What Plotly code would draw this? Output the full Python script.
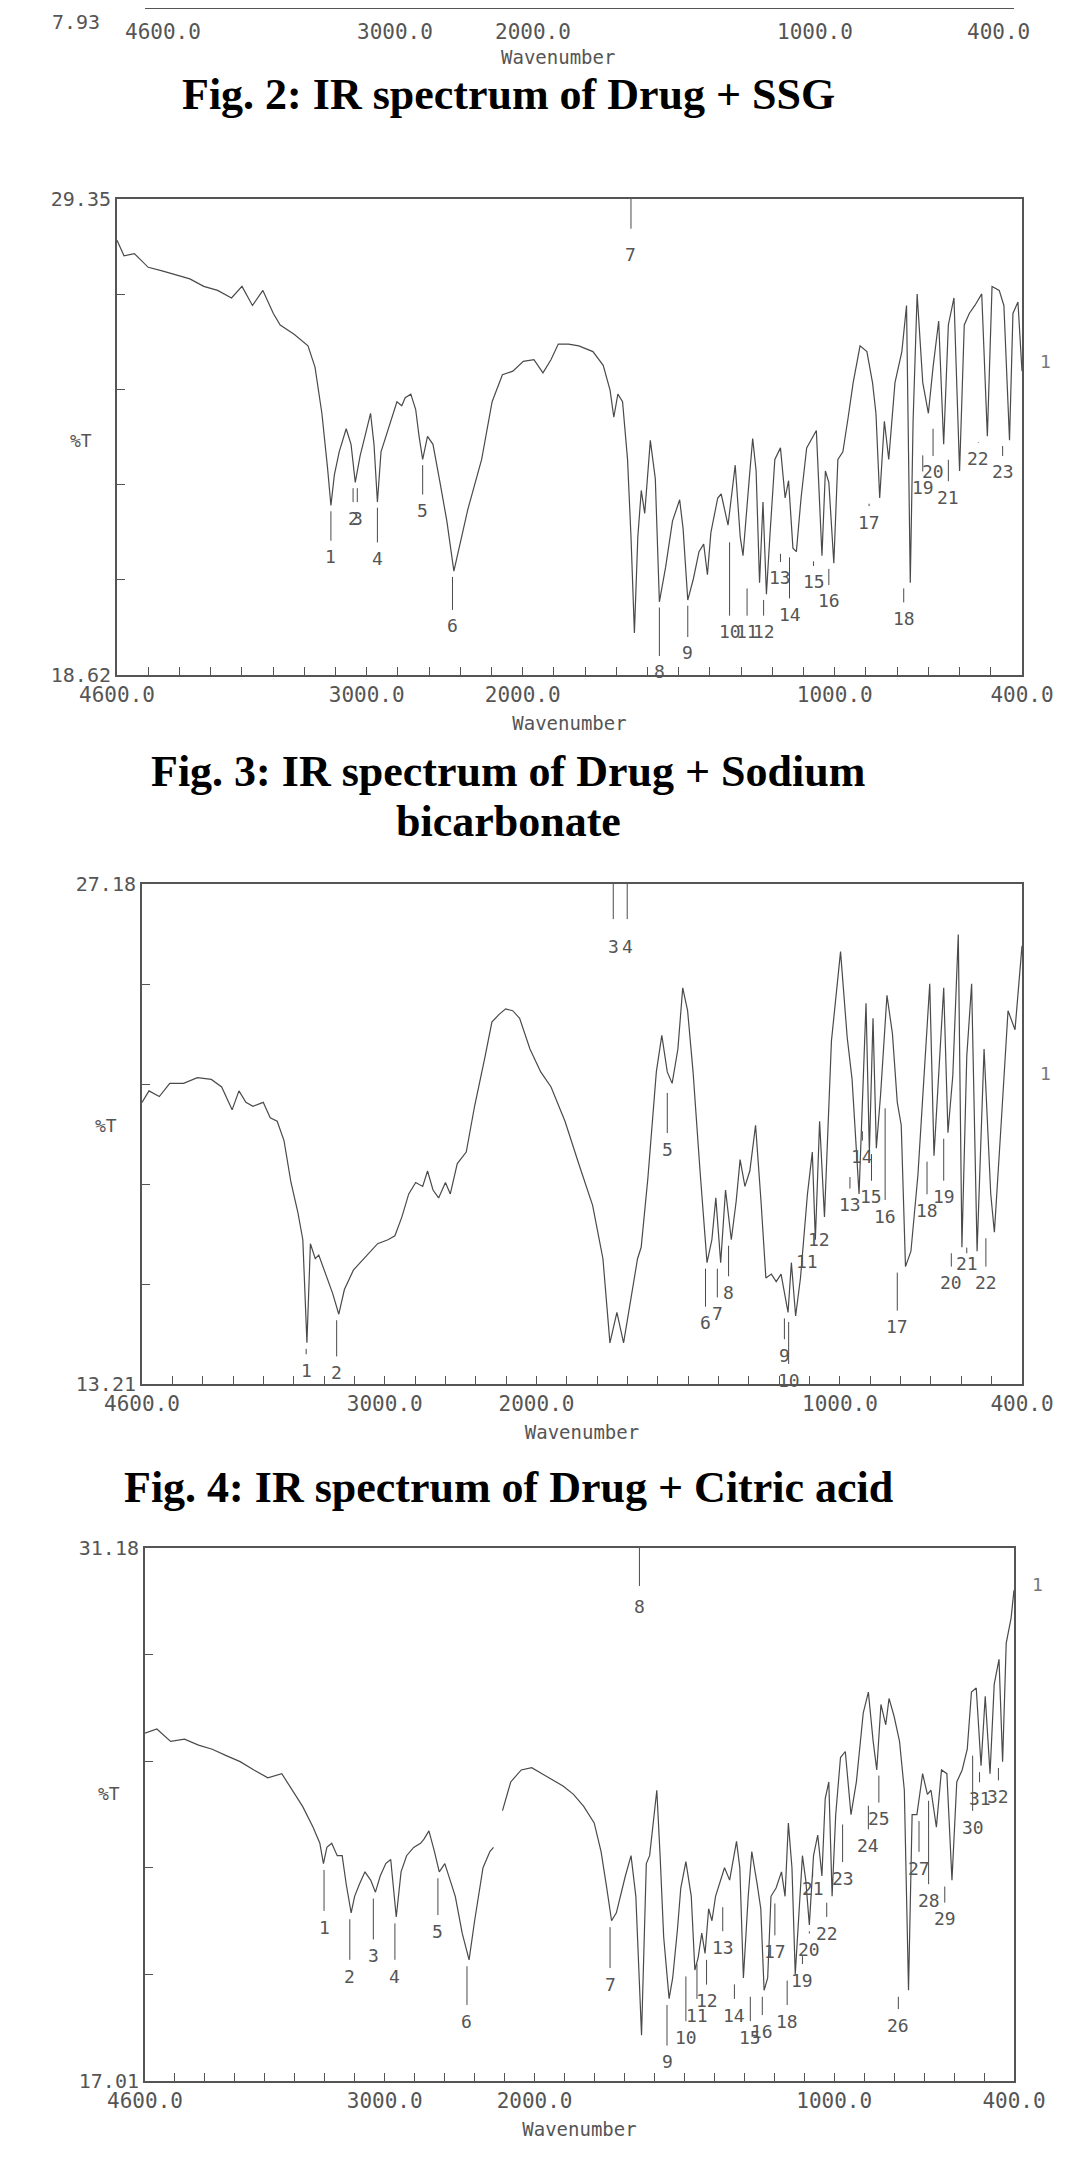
import numpy as np
import plotly.graph_objects as go

# ---- Fig. 2: Drug + SSG ----
s2_wn = [4600,4555,4489,4400,4311,4222,4133,4044,3955,3866,3799,3732,3665,3598,3554,3465,3376,3331,3287,3251,3229,3207,3176,3131,3100,3073,3042,3011,2975,2953,2931,2908,2877,2842,2806,2775,2753,2717,2686,2664,2641,2610,2575,2530,2486,2441,2397,2352,2263,2196,2130,2063,1998,1964,1935,1909,1886,1853,1820,1775,1742,1720,1708,1695,1680,1664,1653,1642,1631,1620,1609,1591,1575,1562,1542,1520,1497,1486,1471,1453,1435,1420,1408,1397,1375,1364,1342,1319,1303,1294,1274,1263,1252,1241,1230,1219,1208,1192,1174,1159,1148,1134,1123,1108,1090,1059,1041,1030,1019,1003,990,974,957,941,919,897,879,868,856,841,827,807,785,770,758,749,736,718,700,685,667,651,636,618,600,585,569,551,529,511,496,473,458,440,429,413,400]
s2_t = [28.42,28.07,28.12,27.81,27.73,27.64,27.55,27.38,27.29,27.12,27.38,26.95,27.29,26.77,26.51,26.30,26.04,25.56,24.52,23.30,22.44,23.13,23.65,24.17,23.82,22.96,23.56,24.00,24.52,23.82,22.52,23.65,24.00,24.34,24.78,24.69,24.87,24.95,24.61,24.00,23.48,24.00,23.82,22.96,22.09,20.96,21.66,22.35,23.48,24.78,25.39,25.47,25.69,25.73,25.43,25.73,26.08,26.08,26.04,25.91,25.60,25.04,24.43,24.95,24.78,23.48,21.74,19.57,21.74,22.78,22.26,23.91,23.04,20.27,21.05,22.09,22.57,21.92,20.31,20.79,21.40,21.57,20.88,21.83,22.61,22.70,22.00,23.35,21.74,21.31,23.04,23.95,23.22,20.70,22.52,20.44,21.74,23.48,23.74,22.61,23.00,21.48,21.40,22.61,23.74,24.13,21.31,23.22,22.96,21.14,23.48,23.65,24.43,25.21,26.04,25.91,25.21,24.52,22.61,24.34,23.48,25.21,25.91,26.95,20.70,24.34,27.21,25.21,24.52,25.56,26.60,23.82,26.51,27.12,23.22,26.51,26.77,26.95,27.21,24.00,27.38,27.29,26.95,23.91,26.77,27.03,25.47]
p2_text = ["1","2","3","4","5","6","8","9","10","11","12","13","14","15","16","17","18","19","20","21","22","23"]
p2_wn = [3229,3087,3060,2931,2641,2450,1562,1471,1337,1281,1228,1174,1145,1068,1019,890,779,718,685,636,540,462]
p2_trough = [22.44,22.96,22.96,22.52,23.48,20.96,20.27,20.31,21.74,20.70,20.44,21.48,21.40,21.31,21.14,22.61,20.70,23.70,24.30,23.60,24.00,23.91]
p2_label = [21.57,22.44,22.44,21.53,22.61,20.01,18.97,19.40,19.88,19.88,19.88,21.09,20.27,21.00,20.57,22.35,20.18,23.13,23.48,22.91,23.78,23.48]
top2_text = ["7"]
top2_wn = [1653]
top2_end = [28.68]
top2_label = [28.38]

# ---- Fig. 3: Drug + Sodium bicarbonate ----
s3_wn = [4600,4554,4486,4417,4326,4235,4143,4075,4006,3961,3915,3869,3801,3755,3709,3664,3618,3572,3540,3513,3490,3458,3435,3390,3344,3303,3266,3207,3139,3047,2979,2933,2887,2842,2796,2750,2718,2682,2645,2600,2568,2522,2463,2408,2339,2294,2248,2203,2157,2111,2043,1986,1952,1906,1861,1815,1781,1758,1735,1713,1690,1667,1655,1633,1605,1587,1569,1553,1534,1518,1502,1484,1461,1438,1422,1409,1393,1377,1358,1342,1329,1313,1297,1278,1260,1244,1226,1210,1194,1171,1160,1146,1130,1107,1091,1081,1067,1051,1028,998,976,960,937,914,903,891,880,866,845,827,811,798,784,766,743,720,704,690,658,644,628,610,598,582,566,548,525,503,491,469,446,423,400]
s3_t = [21.08,21.40,21.24,21.61,21.61,21.77,21.72,21.51,20.87,21.40,21.08,20.97,21.08,20.65,20.55,20.01,18.84,17.99,17.24,14.36,17.13,16.71,16.81,16.28,15.75,15.16,15.85,16.39,16.71,17.13,17.24,17.35,17.88,18.52,18.84,18.73,19.16,18.63,18.41,18.84,18.52,19.37,19.69,20.97,22.36,23.32,23.53,23.69,23.64,23.43,22.57,21.93,21.51,20.55,19.37,18.20,16.71,14.36,15.21,14.36,15.53,16.71,17.03,18.95,21.93,22.95,21.93,21.61,22.57,24.28,23.64,21.93,19.16,16.60,17.24,18.41,16.60,18.63,17.24,18.31,19.48,18.73,19.16,20.44,18.31,16.17,16.28,16.07,16.28,15.21,16.60,15.11,16.17,18.52,19.69,17.24,20.55,17.88,22.79,25.29,22.89,21.72,18.52,23.85,19.69,23.43,19.80,21.29,24.07,23.00,21.08,20.44,16.49,16.92,19.05,22.25,24.39,19.59,24.28,20.23,21.83,25.77,17.03,22.36,24.39,16.92,22.57,18.52,17.45,20.44,23.64,23.11,25.45]
p3_text = ["1","2","5","6","7","8","9","10","11","12","13","14","15","16","17","18","19","20","21","22"]
p3_wn = [3518,3317,1569,1443,1404,1367,1183,1169,1107,1069,967,926,896,851,811,713,658,633,582,519]
p3_trough = [14.36,15.16,21.51,16.60,16.60,17.24,15.21,15.11,17.24,17.88,19.16,20.44,19.80,21.08,16.49,19.59,20.23,17.03,17.03,17.45]
p3_label = [13.94,13.88,20.12,15.27,15.53,16.12,14.36,13.67,16.97,17.61,18.57,19.91,18.79,18.25,15.16,18.41,18.79,16.39,16.92,16.39]
top3_text = ["3","4"]
top3_wn = [1747,1701]
top3_end = [26.20,26.20]
top3_label = [25.77,25.77]

# ---- Fig. 4: Drug + Citric acid ----
s4_wn = [4600,4521,4429,4336,4243,4151,4058,3965,3873,3780,3687,3618,3548,3479,3433,3409,3386,3354,3317,3284,3257,3224,3201,3169,3132,3094,3062,3030,2993,2960,2923,2891,2854,2807,2761,2738,2705,2668,2636,2599,2529,2483,2437,2400,2344,2298,2274,None,2214,2159,2089,2019,1975,1940,1905,1870,1836,1801,1778,1759,1743,1727,1708,1697,1678,1662,1643,1627,1616,1604,1592,1581,1569,1551,1539,1523,1512,1495,1477,1465,1454,1442,1431,1419,1408,1396,1379,1366,1349,1326,1315,1303,1287,1275,1257,1245,1234,1222,1211,1194,1176,1164,1153,1141,1130,1118,1106,1095,1083,1069,1055,1041,1030,1018,1007,995,979,963,944,926,903,886,870,858,844,828,817,800,782,766,752,740,724,705,689,677,659,642,624,607,591,573,556,542,526,510,496,480,466,450,438,426,410,400]
s4_t = [26.26,26.37,26.04,26.10,25.94,25.83,25.66,25.50,25.28,25.07,25.18,24.74,24.31,23.76,23.33,22.79,23.22,23.33,23.00,23.00,22.24,21.48,21.92,22.24,22.57,22.35,22.03,22.46,22.79,22.90,21.37,22.57,23.00,23.22,23.33,23.44,23.66,23.11,22.57,22.79,21.92,20.94,20.23,21.27,22.68,23.11,23.22,None,24.20,24.96,25.28,25.34,25.18,25.01,24.85,24.63,24.31,23.87,23.11,22.14,21.27,21.48,22.14,22.46,23.00,21.92,18.23,22.79,23.00,23.87,24.74,23.00,20.83,19.20,19.75,21.05,22.14,22.84,21.92,19.96,20.29,20.94,20.40,21.59,21.27,21.92,22.35,22.68,22.35,23.38,22.68,19.75,21.92,23.11,22.24,21.59,19.42,19.75,21.92,22.14,22.57,21.92,23.87,22.68,19.85,21.37,23.00,22.35,21.16,23.00,23.55,22.46,24.52,24.96,21.92,24.09,25.61,25.77,24.09,24.96,26.80,27.35,26.04,25.28,27.02,26.48,27.18,26.70,26.04,24.74,19.42,24.09,24.09,25.18,24.63,24.74,23.76,25.28,25.18,22.35,24.96,25.28,25.83,27.35,27.46,25.39,27.24,25.18,27.56,28.22,25.50,28.65,29.30,30.06]
p4_text = ["1","2","3","4","5","6","7","9","10","11","12","13","14","15","16","17","18","19","20","21","22","23","24","25","26","27","28","29","30","31","32"]
p4_wn = [3405,3233,3076,2932,2645,2451,1748,1558,1495,1458,1426,1372,1333,1280,1240,1198,1157,1106,1083,1072,1025,972,886,851,786,717,685,631,538,515,452]
p4_trough = [22.79,21.48,22.03,21.37,22.57,20.23,21.27,19.20,19.96,20.29,20.40,21.80,19.75,19.42,19.42,21.90,19.85,20.50,21.16,22.60,21.92,24.00,24.50,25.30,19.42,24.09,24.63,22.35,25.83,25.39,25.50]
p4_label = [21.43,20.13,20.67,20.13,21.32,18.93,19.91,17.85,18.50,19.09,19.47,20.89,19.09,18.50,18.66,20.78,18.93,20.02,20.83,22.46,21.27,22.73,23.60,24.31,18.82,23.00,22.14,21.65,24.09,24.85,24.90]
top4_text = ["8"]
top4_wn = [1650]
top4_end = [30.17]
top4_label = [29.95]

tick_wn = [4600, 3000, 2000, 1000, 400]
tick_txt = ["4600.0", "3000.0", "2000.0", "1000.0", "400.0"]
minor_wn = list(range(4600, 2000, -200)) + list(range(2000, 399, -100))

W, H = 1092, 2171
INK = "#4a4a4a"
MONO = "DejaVu Sans Mono"


def chart_x(wn):
    # spectrometer chart: scale halves above 2000 cm-1
    return [None if w is None else (w if w <= 2000 else 2000 + (w - 2000) / 2) for w in wn]


def px(v):
    return 1 - v / H


fig = go.Figure()

panels = [
    dict(wn=s2_wn, t=s2_t, pt=p2_text, pw=p2_wn, ptr=p2_trough, pl=p2_label,
         tt=top2_text, tw=top2_wn, te=top2_end, tl=top2_label,
         rng=(18.62, 29.35), xd=(109, 1014), yd=(191, 667), one=25.69),
    dict(wn=s3_wn, t=s3_t, pt=p3_text, pw=p3_wn, ptr=p3_trough, pl=p3_label,
         tt=top3_text, tw=top3_wn, te=top3_end, tl=top3_label,
         rng=(13.21, 27.18), xd=(134, 1014), yd=(876, 1376), one=21.88),
    dict(wn=s4_wn, t=s4_t, pt=p4_text, pw=p4_wn, ptr=p4_trough, pl=p4_label,
         tt=top4_text, tw=top4_wn, te=top4_end, tl=top4_label,
         rng=(17.01, 31.18), xd=(137, 1006), yd=(1540, 2073), one=30.22),
]

for i, p in enumerate(panels, start=1):
    xa = "x" if i == 1 else f"x{i}"
    ya = "y" if i == 1 else f"y{i}"
    lo, hi = p["rng"]
    fig.add_trace(go.Scatter(x=chart_x(p["wn"]), y=p["t"], mode="lines",
                             line=dict(color=INK, width=1.2), connectgaps=False,
                             xaxis=xa, yaxis=ya, showlegend=False))
    # peak marker lines
    lx, ly = [], []
    for w, a, b in zip(p["pw"], p["ptr"], p["pl"]):
        gap = (hi - lo) * 0.012
        lx += [chart_x([w])[0]] * 2 + [None]
        ly += [a - gap, b + gap * 0.6, None]
    for w, e in zip(p["tw"], p["te"]):
        lx += [chart_x([w])[0]] * 2 + [None]
        ly += [hi, e, None]
    fig.add_trace(go.Scatter(x=lx, y=ly, mode="lines", line=dict(color=INK, width=1),
                             xaxis=xa, yaxis=ya, showlegend=False, hoverinfo="skip"))
    for txt, w, b in list(zip(p["pt"], p["pw"], p["pl"])) + list(zip(p["tt"], p["tw"], p["tl"])):
        fig.add_annotation(x=chart_x([w])[0], y=b, xref=xa, yref=ya, text=txt,
                           showarrow=False, yanchor="top", xanchor="center",
                           font=dict(family=MONO, size=18, color="#555"))
    yt = list(np.linspace(lo, hi, 6))
    xkey = "xaxis" if i == 1 else f"xaxis{i}"
    ykey = "yaxis" if i == 1 else f"yaxis{i}"
    fig.update_layout({
        xkey: dict(domain=[p["xd"][0] / W, p["xd"][1] / W], anchor=ya, automargin=False,
                   range=[3300, 400], showgrid=False, zeroline=False,
                   showline=True, mirror=True, linecolor="#555", linewidth=2,
                   ticks="inside", ticklen=8, tickcolor="#555",
                   tickvals=chart_x(minor_wn),
                   ticktext=[f"{w}.0" if w in tick_wn else "" for w in minor_wn],
                   tickfont=dict(family=MONO, size=21, color="#555"),
                   title=dict(text="Wavenumber", standoff=10,
                              font=dict(family=MONO, size=19, color="#555"))),
        ykey: dict(domain=[px(p["yd"][1]), px(p["yd"][0])], anchor=xa, automargin=False,
                   range=[lo, hi], showgrid=False, zeroline=False,
                   showline=True, mirror=True, linecolor="#555", linewidth=2,
                   ticks="inside", ticklen=8, tickcolor="#555",
                   tickvals=yt, ticktext=[f"{lo:.2f}", "", "", "", "", f"{hi:.2f}"],
                   tickfont=dict(family=MONO, size=20, color="#555")),
    })
    fig.add_annotation(x=p["xd"][0] / W - 0.045, y=(px(p["yd"][0]) + px(p["yd"][1])) / 2 + 0.004,
                       xref="paper", yref="paper", text="%T", showarrow=False,
                       font=dict(family=MONO, size=18, color="#555"))
    fig.add_annotation(x=p["xd"][1] / W + 0.028, y=p["one"], xref="paper", yref=ya,
                       text="1", showarrow=False,
                       font=dict(family=MONO, size=18, color="#777"))

# captions
cap = dict(family="Liberation Serif", size=44, color="black")
for txt, y in [("<b>Fig. 2: IR spectrum of Drug + SSG</b>", 60),
               ("<b>Fig. 3: IR spectrum of Drug + Sodium</b>", 763),
               ("<b>bicarbonate</b>", 813),
               ("<b>Fig. 4: IR spectrum of Drug + Citric acid</b>", 1506)]:
    fig.add_annotation(x=500 / W, y=px(y), xref="paper", yref="paper", text=txt,
                       showarrow=False, font=cap)

# remnant of the previous figure's axis at the top of the page
fig.add_shape(type="line", xref="paper", yref="paper", x0=137 / W, x1=1006 / W,
              y0=px(0), y1=px(0), line=dict(color="#555", width=2))
for txt, x in zip(tick_txt, [115, 387, 525, 847, 1024]):
    fig.add_annotation(x=x / W, y=px(10), xref="paper", yref="paper", text=txt,
                       showarrow=False, font=dict(family=MONO, size=21, color="#555"))
fig.add_annotation(x=550 / W, y=px(36), xref="paper", yref="paper", text="Wavenumber",
                   showarrow=False, font=dict(family=MONO, size=19, color="#555"))
fig.add_annotation(x=42 / W, y=px(0), xref="paper", yref="paper", text="7.93",
                   showarrow=False, font=dict(family=MONO, size=20, color="#555"))

fig.update_layout(width=W, height=H, margin=dict(l=0, r=0, t=0, b=0),
                  paper_bgcolor="white", plot_bgcolor="white")

fig.write_html("out.html")
